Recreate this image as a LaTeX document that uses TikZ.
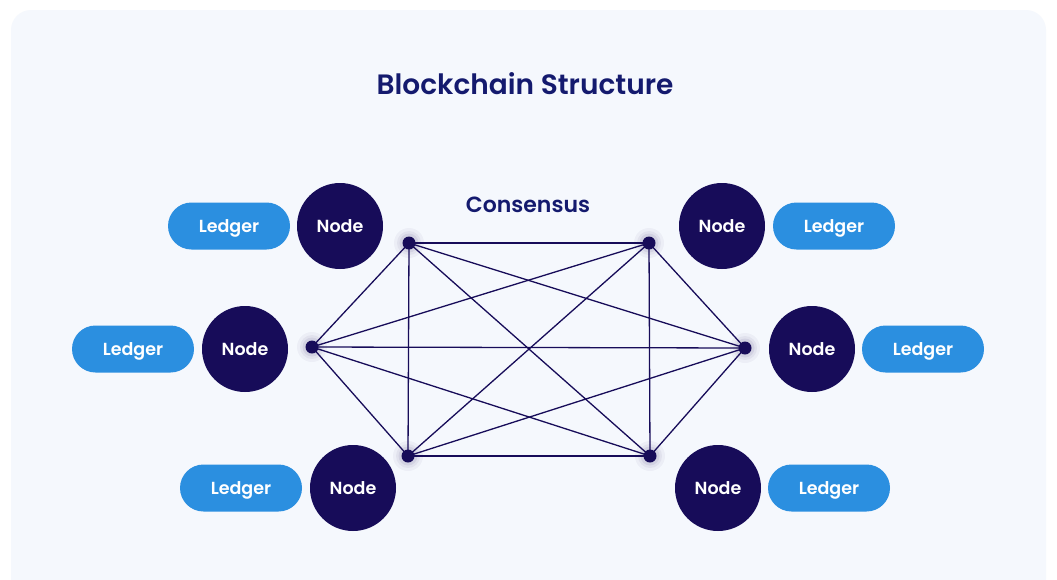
\documentclass[tikz,border=0pt]{standalone}
\usepackage{fontspec}
\setmainfont{Poppins}[BoldFont={Poppins SemiBold}]
\usepackage{xcolor}
\usetikzlibrary{positioning,calc}
\definecolor{panelbg}{HTML}{F5F8FD}
\definecolor{navy}{HTML}{170C59}
\definecolor{titleblue}{HTML}{141A6E}
\definecolor{ledgerblue}{HTML}{2B8FE0}

\begin{document}
\begin{tikzpicture}[
  x=1pt, y=-1pt,
  peer/.style={circle, fill=navy, minimum size=86pt, inner sep=0pt, text=white, text height=12pt, text depth=0pt, font=\fontsize{17.5}{20}\selectfont\bfseries},
  ledger/.style={rounded corners=23.5pt, fill=ledgerblue, minimum width=122pt, minimum height=47pt, inner sep=0pt, text=white, text height=12pt, text depth=0pt, font=\fontsize{17.5}{20}\selectfont\bfseries},
  vertex/.style={circle, fill=navy, minimum size=13pt, inner sep=0pt},
  glow/.style={circle, fill=navy, inner sep=0pt},
  link/.style={draw=navy, line width=1.3pt}
]
  \useasboundingbox (0,0) rectangle (1057,579);

  % background panel
  \fill[white] (0,0) rectangle (1057,579);
  \fill[panelbg, rounded corners=20pt] (11,10) rectangle (1046,610);

  % title
  \node[text=titleblue, font=\fontsize{28}{32}\selectfont\bfseries] (title) at (525,84) {Blockchain Structure};
  \node[text=titleblue, font=\fontsize{22}{26}\selectfont\bfseries] (cons) at (528,205) {Consensus};

  % glow under the consensus points
  \foreach \p in {(409,243),(649,243),(312,347),(745,348),(408,456),(650,456)} {
    \node[glow, minimum size=30pt, opacity=0.04] at \p {};
    \node[glow, minimum size=24pt, opacity=0.05] at \p {};
    \node[glow, minimum size=19pt, opacity=0.07] at \p {};
  }

  % consensus points
  \node[vertex] (ptl) at (409,243) {};
  \node[vertex] (ptr) at (649,243) {};
  \node[vertex] (pml) at (312,347) {};
  \node[vertex] (pmr) at (745,348) {};
  \node[vertex] (pbl) at (408,456) {};
  \node[vertex] (pbr) at (650,456) {};

  % links between all points
  \draw[link] (ptl.center) -- (ptr.center);
  \draw[link] (ptl.center) -- (pml.center);
  \draw[link] (ptl.center) -- (pmr.center);
  \draw[link] (ptl.center) -- (pbl.center);
  \draw[link] (ptl.center) -- (pbr.center);
  \draw[link] (ptr.center) -- (pml.center);
  \draw[link] (ptr.center) -- (pmr.center);
  \draw[link] (ptr.center) -- (pbl.center);
  \draw[link] (ptr.center) -- (pbr.center);
  \draw[link] (pml.center) -- (pmr.center);
  \draw[link] (pml.center) -- (pbl.center);
  \draw[link] (pml.center) -- (pbr.center);
  \draw[link] (pmr.center) -- (pbl.center);
  \draw[link] (pmr.center) -- (pbr.center);
  \draw[link] (pbl.center) -- (pbr.center);

  % left peers
  \node[peer]   (ntl) at (340,226) {Node};
  \node[ledger] (ltl) at (229,226) {Ledger};
  \node[peer]   (nml) at (245,349) {Node};
  \node[ledger] (lml) at (133,349) {Ledger};
  \node[peer]   (nbl) at (353,488) {Node};
  \node[ledger] (lbl) at (241,488) {Ledger};

  % right peers
  \node[peer]   (ntr) at (722,226) {Node};
  \node[ledger] (ltr) at (834,226) {Ledger};
  \node[peer]   (nmr) at (812,349) {Node};
  \node[ledger] (lmr) at (923,349) {Ledger};
  \node[peer]   (nbr) at (718,488) {Node};
  \node[ledger] (lbr) at (829,488) {Ledger};

\end{tikzpicture}
\end{document}
